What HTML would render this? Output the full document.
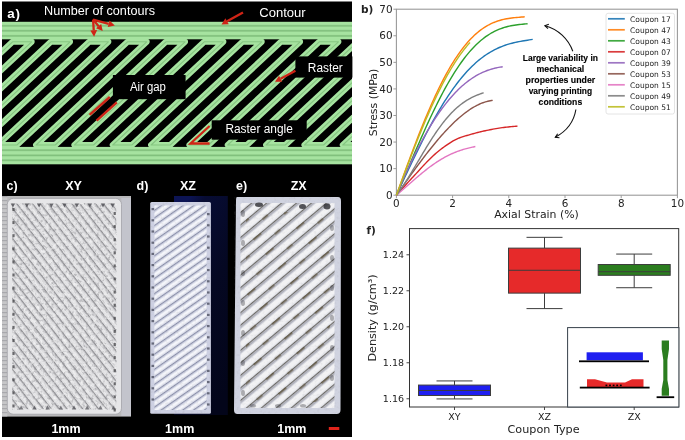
<!DOCTYPE html>
<html><head><meta charset="utf-8"><title>Figure</title>
<style>html,body{margin:0;padding:0;background:#fff;width:685px;height:440px;overflow:hidden}svg{display:block}</style>
</head><body>
<svg width="685" height="440" viewBox="0 0 685 440">
<rect width="685" height="440" fill="#fff"/>
<rect x="2" y="1.5" width="350" height="435.5" fill="#000"/>
<defs><clipPath id="cpa"><rect x="2" y="38.6" width="350" height="109"/></clipPath>
<linearGradient id="cont" x1="0" y1="0" x2="0" y2="1"></linearGradient></defs>
<rect x="2" y="21.8" width="350" height="17.50" fill="#a6e3a0"/>
<rect x="2" y="24.80" width="350" height="2.0" fill="#8fcc8a"/>
<rect x="2" y="25.30" width="350" height="1.0" fill="#78b873" opacity="0.6"/>
<rect x="2" y="29.75" width="350" height="2.0" fill="#8fcc8a"/>
<rect x="2" y="30.25" width="350" height="1.0" fill="#78b873" opacity="0.6"/>
<rect x="2" y="34.90" width="350" height="2.0" fill="#8fcc8a"/>
<rect x="2" y="35.40" width="350" height="1.0" fill="#78b873" opacity="0.6"/>
<rect x="2" y="146.9" width="350" height="17.40" fill="#a6e3a0"/>
<rect x="2" y="149.20" width="350" height="2.0" fill="#8fcc8a"/>
<rect x="2" y="149.70" width="350" height="1.0" fill="#78b873" opacity="0.6"/>
<rect x="2" y="154.40" width="350" height="2.0" fill="#8fcc8a"/>
<rect x="2" y="154.90" width="350" height="1.0" fill="#78b873" opacity="0.6"/>
<rect x="2" y="159.30" width="350" height="2.0" fill="#8fcc8a"/>
<rect x="2" y="159.80" width="350" height="1.0" fill="#78b873" opacity="0.6"/>
<g clip-path="url(#cpa)"><path d="M-213.15,145.00 L-102.48,41.80 L-83.31,41.80 L-193.98,145.00 L-174.81,145.00 L-64.14,41.80 L-44.97,41.80 L-155.64,145.00 L-136.47,145.00 L-25.80,41.80 L-6.63,41.80 L-117.30,145.00 L-98.13,145.00 L12.54,41.80 L31.71,41.80 L-78.96,145.00 L-59.79,145.00 L50.88,41.80 L70.05,41.80 L-40.62,145.00 L-21.45,145.00 L89.22,41.80 L108.39,41.80 L-2.28,145.00 L16.89,145.00 L127.56,41.80 L146.73,41.80 L36.06,145.00 L55.23,145.00 L165.90,41.80 L185.07,41.80 L74.40,145.00 L93.57,145.00 L204.24,41.80 L223.41,41.80 L112.74,145.00 L131.91,145.00 L242.58,41.80 L261.75,41.80 L151.08,145.00 L170.25,145.00 L280.92,41.80 L300.09,41.80 L189.42,145.00 L208.59,145.00 L319.26,41.80 L338.43,41.80 L227.76,145.00 L246.93,145.00 L357.60,41.80 L376.77,41.80 L266.10,145.00 L285.27,145.00 L395.94,41.80 L415.11,41.80 L304.44,145.00 L323.61,145.00 L434.28,41.80 L453.45,41.80 L342.78,145.00 L361.95,145.00 L472.62,41.80 L491.79,41.80 L381.12,145.00 L400.29,145.00 L510.96,41.80 L530.13,41.80 L419.46,145.00 L438.63,145.00" fill="none" stroke="#a6e3a0" stroke-width="6.0" stroke-linejoin="round"/><path d="M-213.15,145.00 L-102.48,41.80 L-83.31,41.80 L-193.98,145.00 L-174.81,145.00 L-64.14,41.80 L-44.97,41.80 L-155.64,145.00 L-136.47,145.00 L-25.80,41.80 L-6.63,41.80 L-117.30,145.00 L-98.13,145.00 L12.54,41.80 L31.71,41.80 L-78.96,145.00 L-59.79,145.00 L50.88,41.80 L70.05,41.80 L-40.62,145.00 L-21.45,145.00 L89.22,41.80 L108.39,41.80 L-2.28,145.00 L16.89,145.00 L127.56,41.80 L146.73,41.80 L36.06,145.00 L55.23,145.00 L165.90,41.80 L185.07,41.80 L74.40,145.00 L93.57,145.00 L204.24,41.80 L223.41,41.80 L112.74,145.00 L131.91,145.00 L242.58,41.80 L261.75,41.80 L151.08,145.00 L170.25,145.00 L280.92,41.80 L300.09,41.80 L189.42,145.00 L208.59,145.00 L319.26,41.80 L338.43,41.80 L227.76,145.00 L246.93,145.00 L357.60,41.80 L376.77,41.80 L266.10,145.00 L285.27,145.00 L395.94,41.80 L415.11,41.80 L304.44,145.00 L323.61,145.00 L434.28,41.80 L453.45,41.80 L342.78,145.00 L361.95,145.00 L472.62,41.80 L491.79,41.80 L381.12,145.00 L400.29,145.00 L510.96,41.80 L530.13,41.80 L419.46,145.00 L438.63,145.00" fill="none" stroke="#78b873" stroke-width="1.1" stroke-linejoin="round" opacity="0.7"/></g>
<text x="7.3" y="17.6" font-family="Liberation Sans, Arial, sans-serif" font-size="13.4" font-weight="bold" fill="#fff" letter-spacing="0.7">a)</text>
<text x="44" y="14.8" font-family="Liberation Sans, Arial, sans-serif" font-size="12.2" fill="#fff" textLength="111" lengthAdjust="spacingAndGlyphs">Number of contours</text>
<text x="259.3" y="17.2" font-family="Liberation Sans, Arial, sans-serif" font-size="12.2" fill="#fff" textLength="46.4" lengthAdjust="spacingAndGlyphs">Contour</text>
<rect x="295.4" y="56.4" width="57" height="21.2" fill="#000"/>
<text x="307.8" y="71.7" font-family="Liberation Sans, Arial, sans-serif" font-size="12" fill="#fff" textLength="35" lengthAdjust="spacingAndGlyphs">Raster</text>
<rect x="112.9" y="75" width="72.7" height="24.2" fill="#000"/>
<text x="129.9" y="91.4" font-family="Liberation Sans, Arial, sans-serif" font-size="12" fill="#fff" textLength="36" lengthAdjust="spacingAndGlyphs">Air gap</text>
<rect x="211.7" y="120.3" width="95" height="19.4" fill="#000"/>
<text x="225.4" y="133.3" font-family="Liberation Sans, Arial, sans-serif" font-size="12" fill="#fff" textLength="67.4" lengthAdjust="spacingAndGlyphs">Raster angle</text>
<line x1="89.6" y1="114.9" x2="109.8" y2="97" stroke="#cf2416" stroke-width="2.5"/>
<line x1="96.6" y1="120.7" x2="116.8" y2="102.3" stroke="#cf2416" stroke-width="2.5"/>
<polyline points="209.6,126 190.5,143.5 209.6,143.5" fill="none" stroke="#cf2416" stroke-width="2.3"/>
<line x1="93.1" y1="19.6" x2="93.73" y2="30.31" stroke="#cf2416" stroke-width="2.3"/>
<polygon points="94.1,36.7 90.33,30.51 97.12,30.11" fill="#cf2416"/>
<line x1="93.1" y1="19.6" x2="98.60" y2="26.19" stroke="#cf2416" stroke-width="2.3"/>
<polygon points="102.7,31.1 95.99,28.37 101.21,24.01" fill="#cf2416"/>
<line x1="93.1" y1="19.6" x2="108.62" y2="23.82" stroke="#cf2416" stroke-width="2.3"/>
<polygon points="114.8,25.5 107.73,27.10 109.52,20.54" fill="#cf2416"/>
<line x1="243" y1="12.4" x2="227.09" y2="21.28" stroke="#cf2416" stroke-width="2.3"/>
<polygon points="221.5,24.4 225.43,18.31 228.75,24.25" fill="#cf2416"/>
<line x1="295.4" y1="70.7" x2="280.62" y2="78.74" stroke="#cf2416" stroke-width="2.3"/>
<polygon points="275,81.8 279.00,75.75 282.25,81.73" fill="#cf2416"/>
<defs><pattern id="pc" width="6.2" height="6.2" patternUnits="userSpaceOnUse" patternTransform="rotate(52)"><rect width="6.2" height="6.2" fill="#dedee0"/><rect y="0" width="6.2" height="1.0" fill="#8e8e92"/><rect y="1.0" width="6.2" height="0.7" fill="#b8b8bc"/><rect y="3.4" width="6.2" height="1.2" fill="#e8e8ea"/></pattern><pattern id="pcl" width="4" height="4" patternUnits="userSpaceOnUse"><rect width="4" height="4" fill="#c6c6c8"/><rect width="4" height="1.2" fill="#a8a8ac"/></pattern><pattern id="pd" width="6.2" height="6.2" patternUnits="userSpaceOnUse" patternTransform="rotate(-35)"><rect width="6.2" height="6.2" fill="#f5f6fb"/><rect width="6.2" height="0.9" fill="#8c90aa"/><rect y="0.9" width="6.2" height="1.2" fill="#c3c7da"/><rect y="5.0" width="6.2" height="1.2" fill="#d9dce8"/></pattern><pattern id="pe" width="9.6" height="9.6" patternUnits="userSpaceOnUse" patternTransform="rotate(-40)"><rect width="9.6" height="9.6" fill="#f2f2f4"/><rect width="9.6" height="1.3" fill="#6c6a66"/><rect y="1.3" width="9.6" height="1.5" fill="#a9abb7"/><rect y="2.8" width="9.6" height="0.9" fill="#d2d4dc"/><rect y="8.4" width="9.6" height="1.2" fill="#dddee4"/></pattern><pattern id="pe2" width="40" height="19.2" patternUnits="userSpaceOnUse" patternTransform="rotate(-40)"><rect x="0" y="-0.3" width="10" height="2.4" fill="#5a4e34" opacity="0.6"/><rect x="20" y="9.3" width="7" height="2.4" fill="#5a4e34" opacity="0.5"/></pattern><filter id="nz" x="0" y="0" width="1" height="1"><feTurbulence type="fractalNoise" baseFrequency="0.35" numOctaves="2" seed="7"/><feColorMatrix type="matrix" values="0 0 0 0 0.3  0 0 0 0 0.3  0 0 0 0 0.32  2.6 0 0 0 -1.35"/><feGaussianBlur stdDeviation="0.35"/></filter><filter id="nzl" x="0" y="0" width="1" height="1"><feTurbulence type="fractalNoise" baseFrequency="0.3" numOctaves="2" seed="3"/><feColorMatrix type="matrix" values="0 0 0 0 1  0 0 0 0 1  0 0 0 0 1  2.6 0 0 0 -1.3"/><feGaussianBlur stdDeviation="0.35"/></filter><linearGradient id="navy" x1="0.3" y1="0" x2="0.7" y2="1"><stop offset="0" stop-color="#0c1454"/><stop offset="0.1" stop-color="#070c34"/><stop offset="0.5" stop-color="#050822"/><stop offset="1" stop-color="#03051a"/></linearGradient></defs>
<rect x="2" y="196" width="129" height="220.6" fill="#b8b8ba"/>
<rect x="2" y="196" width="5.3" height="220.6" fill="url(#pcl)"/>
<rect x="121.3" y="198" width="9.7" height="218" fill="#c3c4cc"/>
<rect x="7.3" y="198.4" width="114.2" height="215.8" rx="6" fill="#e6e6e8" stroke="#9c9ca4" stroke-width="0.7"/>
<rect x="12.2" y="203.6" width="104" height="205.6" fill="url(#pc)"/>
<rect x="12.2" y="203.6" width="104" height="205.6" filter="url(#nz)" opacity="0.75"/>
<rect x="12.2" y="203.6" width="104" height="205.6" filter="url(#nzl)" opacity="0.6"/>
<polygon points="10.7,203.4 15.1,203.4 12.9,207.6" fill="#505056" opacity="0.85"/>
<polygon points="24.7,203.4 29.1,203.4 26.9,207.6" fill="#505056" opacity="0.85"/>
<polygon points="36.9,203.4 41.3,203.4 39.1,207.6" fill="#505056" opacity="0.85"/>
<polygon points="49.2,203.4 53.6,203.4 51.4,207.6" fill="#505056" opacity="0.85"/>
<polygon points="62.3,203.4 66.7,203.4 64.5,207.6" fill="#505056" opacity="0.85"/>
<polygon points="74.6,203.4 79.0,203.4 76.8,207.6" fill="#505056" opacity="0.85"/>
<polygon points="87.7,203.4 92.1,203.4 89.9,207.6" fill="#505056" opacity="0.85"/>
<polygon points="100.8,203.4 105.2,203.4 103.0,207.6" fill="#505056" opacity="0.85"/>
<polygon points="110.5,203.4 114.9,203.4 112.7,207.6" fill="#505056" opacity="0.85"/>
<rect x="12.4" y="208.0" width="2.2" height="3" fill="#4a4a4e" opacity="0.8"/>
<rect x="113.6" y="212.0" width="2.2" height="3" fill="#4a4a4e" opacity="0.8"/>
<rect x="12.4" y="221.1" width="2.2" height="3" fill="#4a4a4e" opacity="0.8"/>
<rect x="113.6" y="225.1" width="2.2" height="3" fill="#4a4a4e" opacity="0.8"/>
<rect x="12.4" y="234.2" width="2.2" height="3" fill="#4a4a4e" opacity="0.8"/>
<rect x="113.6" y="238.2" width="2.2" height="3" fill="#4a4a4e" opacity="0.8"/>
<rect x="12.4" y="247.3" width="2.2" height="3" fill="#4a4a4e" opacity="0.8"/>
<rect x="113.6" y="251.3" width="2.2" height="3" fill="#4a4a4e" opacity="0.8"/>
<rect x="12.4" y="260.4" width="2.2" height="3" fill="#4a4a4e" opacity="0.8"/>
<rect x="113.6" y="264.4" width="2.2" height="3" fill="#4a4a4e" opacity="0.8"/>
<rect x="12.4" y="273.5" width="2.2" height="3" fill="#4a4a4e" opacity="0.8"/>
<rect x="113.6" y="277.5" width="2.2" height="3" fill="#4a4a4e" opacity="0.8"/>
<rect x="12.4" y="286.6" width="2.2" height="3" fill="#4a4a4e" opacity="0.8"/>
<rect x="113.6" y="290.6" width="2.2" height="3" fill="#4a4a4e" opacity="0.8"/>
<rect x="12.4" y="299.7" width="2.2" height="3" fill="#4a4a4e" opacity="0.8"/>
<rect x="113.6" y="303.7" width="2.2" height="3" fill="#4a4a4e" opacity="0.8"/>
<rect x="12.4" y="312.8" width="2.2" height="3" fill="#4a4a4e" opacity="0.8"/>
<rect x="113.6" y="316.8" width="2.2" height="3" fill="#4a4a4e" opacity="0.8"/>
<rect x="12.4" y="325.9" width="2.2" height="3" fill="#4a4a4e" opacity="0.8"/>
<rect x="113.6" y="329.9" width="2.2" height="3" fill="#4a4a4e" opacity="0.8"/>
<rect x="12.4" y="339.0" width="2.2" height="3" fill="#4a4a4e" opacity="0.8"/>
<rect x="113.6" y="343.0" width="2.2" height="3" fill="#4a4a4e" opacity="0.8"/>
<rect x="12.4" y="352.1" width="2.2" height="3" fill="#4a4a4e" opacity="0.8"/>
<rect x="113.6" y="356.1" width="2.2" height="3" fill="#4a4a4e" opacity="0.8"/>
<rect x="12.4" y="365.2" width="2.2" height="3" fill="#4a4a4e" opacity="0.8"/>
<rect x="113.6" y="369.2" width="2.2" height="3" fill="#4a4a4e" opacity="0.8"/>
<rect x="12.4" y="378.3" width="2.2" height="3" fill="#4a4a4e" opacity="0.8"/>
<rect x="113.6" y="382.3" width="2.2" height="3" fill="#4a4a4e" opacity="0.8"/>
<rect x="12.4" y="391.4" width="2.2" height="3" fill="#4a4a4e" opacity="0.8"/>
<rect x="113.6" y="395.4" width="2.2" height="3" fill="#4a4a4e" opacity="0.8"/>
<rect x="12.4" y="404.5" width="2.2" height="3" fill="#4a4a4e" opacity="0.8"/>
<rect x="113.6" y="408.5" width="2.2" height="3" fill="#4a4a4e" opacity="0.8"/>
<polygon points="19.0,409.4 23.4,409.4 21.2,405.6" fill="#505056" opacity="0.7"/>
<polygon points="32.2,409.4 36.6,409.4 34.4,405.6" fill="#505056" opacity="0.7"/>
<polygon points="45.4,409.4 49.8,409.4 47.6,405.6" fill="#505056" opacity="0.7"/>
<polygon points="58.6,409.4 63.0,409.4 60.8,405.6" fill="#505056" opacity="0.7"/>
<polygon points="71.8,409.4 76.2,409.4 74.0,405.6" fill="#505056" opacity="0.7"/>
<polygon points="85.0,409.4 89.4,409.4 87.2,405.6" fill="#505056" opacity="0.7"/>
<polygon points="98.2,409.4 102.6,409.4 100.4,405.6" fill="#505056" opacity="0.7"/>
<polygon points="111.4,409.4 115.8,409.4 113.6,405.6" fill="#505056" opacity="0.7"/>
<rect x="174" y="196" width="53.8" height="219" fill="url(#navy)"/>
<rect x="150.2" y="202" width="60.7" height="211.8" rx="1.5" fill="#cdd0e2"/>
<rect x="154.4" y="205.5" width="52.2" height="204.5" fill="url(#pd)"/>
<rect x="150.2" y="202" width="60.7" height="211.8" filter="url(#nz)" opacity="0.2"/>
<rect x="151.5" y="208.0" width="2.6" height="2.2" fill="#3c3e50" opacity="0.7"/>
<rect x="207" y="213.0" width="2.6" height="2.2" fill="#3c3e50" opacity="0.7"/>
<rect x="151.5" y="219.2" width="2.6" height="2.2" fill="#3c3e50" opacity="0.7"/>
<rect x="207" y="224.2" width="2.6" height="2.2" fill="#3c3e50" opacity="0.7"/>
<rect x="151.5" y="230.4" width="2.6" height="2.2" fill="#3c3e50" opacity="0.7"/>
<rect x="207" y="235.4" width="2.6" height="2.2" fill="#3c3e50" opacity="0.7"/>
<rect x="151.5" y="241.6" width="2.6" height="2.2" fill="#3c3e50" opacity="0.7"/>
<rect x="207" y="246.6" width="2.6" height="2.2" fill="#3c3e50" opacity="0.7"/>
<rect x="151.5" y="252.8" width="2.6" height="2.2" fill="#3c3e50" opacity="0.7"/>
<rect x="207" y="257.8" width="2.6" height="2.2" fill="#3c3e50" opacity="0.7"/>
<rect x="151.5" y="264.0" width="2.6" height="2.2" fill="#3c3e50" opacity="0.7"/>
<rect x="207" y="269.0" width="2.6" height="2.2" fill="#3c3e50" opacity="0.7"/>
<rect x="151.5" y="275.2" width="2.6" height="2.2" fill="#3c3e50" opacity="0.7"/>
<rect x="207" y="280.2" width="2.6" height="2.2" fill="#3c3e50" opacity="0.7"/>
<rect x="151.5" y="286.4" width="2.6" height="2.2" fill="#3c3e50" opacity="0.7"/>
<rect x="207" y="291.4" width="2.6" height="2.2" fill="#3c3e50" opacity="0.7"/>
<rect x="151.5" y="297.6" width="2.6" height="2.2" fill="#3c3e50" opacity="0.7"/>
<rect x="207" y="302.6" width="2.6" height="2.2" fill="#3c3e50" opacity="0.7"/>
<rect x="151.5" y="308.8" width="2.6" height="2.2" fill="#3c3e50" opacity="0.7"/>
<rect x="207" y="313.8" width="2.6" height="2.2" fill="#3c3e50" opacity="0.7"/>
<rect x="151.5" y="320.0" width="2.6" height="2.2" fill="#3c3e50" opacity="0.7"/>
<rect x="207" y="325.0" width="2.6" height="2.2" fill="#3c3e50" opacity="0.7"/>
<rect x="151.5" y="331.2" width="2.6" height="2.2" fill="#3c3e50" opacity="0.7"/>
<rect x="207" y="336.2" width="2.6" height="2.2" fill="#3c3e50" opacity="0.7"/>
<rect x="151.5" y="342.4" width="2.6" height="2.2" fill="#3c3e50" opacity="0.7"/>
<rect x="207" y="347.4" width="2.6" height="2.2" fill="#3c3e50" opacity="0.7"/>
<rect x="151.5" y="353.6" width="2.6" height="2.2" fill="#3c3e50" opacity="0.7"/>
<rect x="207" y="358.6" width="2.6" height="2.2" fill="#3c3e50" opacity="0.7"/>
<rect x="151.5" y="364.8" width="2.6" height="2.2" fill="#3c3e50" opacity="0.7"/>
<rect x="207" y="369.8" width="2.6" height="2.2" fill="#3c3e50" opacity="0.7"/>
<rect x="151.5" y="376.0" width="2.6" height="2.2" fill="#3c3e50" opacity="0.7"/>
<rect x="207" y="381.0" width="2.6" height="2.2" fill="#3c3e50" opacity="0.7"/>
<rect x="151.5" y="387.2" width="2.6" height="2.2" fill="#3c3e50" opacity="0.7"/>
<rect x="207" y="392.2" width="2.6" height="2.2" fill="#3c3e50" opacity="0.7"/>
<rect x="151.5" y="398.4" width="2.6" height="2.2" fill="#3c3e50" opacity="0.7"/>
<rect x="207" y="403.4" width="2.6" height="2.2" fill="#3c3e50" opacity="0.7"/>
<path d="M237,197 L338,197 Q341,197 341,201 L340.5,410 Q340.5,414 336.5,414 L237.5,414 Q234,414 234,410 L236,201 Q236,197 237,197 Z" fill="#d0d3e0"/>
<rect x="240.5" y="203" width="94" height="205" fill="url(#pe)"/>
<rect x="246" y="212" width="84" height="190" fill="url(#pe2)"/>
<rect x="234" y="197" width="107" height="217" filter="url(#nz)" opacity="0.15"/>
<ellipse cx="259.0" cy="204.75" rx="4.0" ry="2.25" fill="#2a2a30" opacity="0.8"/>
<ellipse cx="302.5" cy="206.5" rx="3.5" ry="2.5" fill="#2a2a30" opacity="0.8"/>
<ellipse cx="327.0" cy="206.5" rx="3.5" ry="3.0" fill="#2a2a30" opacity="0.8"/>
<ellipse cx="243.0" cy="213.5" rx="2.0" ry="3.5" fill="#2a2a30" opacity="0.35"/>
<ellipse cx="243.0" cy="243.0" rx="2.0" ry="3.0" fill="#2a2a30" opacity="0.35"/>
<ellipse cx="243.0" cy="273.0" rx="2.0" ry="3.0" fill="#2a2a30" opacity="0.35"/>
<ellipse cx="243.0" cy="303.0" rx="2.0" ry="3.0" fill="#2a2a30" opacity="0.35"/>
<ellipse cx="243.0" cy="333.0" rx="2.0" ry="3.0" fill="#2a2a30" opacity="0.35"/>
<ellipse cx="243.0" cy="363.0" rx="2.0" ry="3.0" fill="#2a2a30" opacity="0.35"/>
<ellipse cx="243.0" cy="393.0" rx="2.0" ry="3.0" fill="#2a2a30" opacity="0.35"/>
<ellipse cx="332.0" cy="228.0" rx="2.0" ry="3.0" fill="#2a2a30" opacity="0.35"/>
<ellipse cx="332.0" cy="258.0" rx="2.0" ry="3.0" fill="#2a2a30" opacity="0.35"/>
<ellipse cx="332.0" cy="288.0" rx="2.0" ry="3.0" fill="#2a2a30" opacity="0.35"/>
<ellipse cx="332.0" cy="318.0" rx="2.0" ry="3.0" fill="#2a2a30" opacity="0.35"/>
<ellipse cx="332.0" cy="348.0" rx="2.0" ry="3.0" fill="#2a2a30" opacity="0.35"/>
<ellipse cx="332.0" cy="378.0" rx="2.0" ry="3.0" fill="#2a2a30" opacity="0.35"/>
<ellipse cx="253.0" cy="405.75" rx="3.0" ry="1.75" fill="#2a2a30" opacity="0.35"/>
<ellipse cx="278.0" cy="405.75" rx="3.0" ry="1.75" fill="#2a2a30" opacity="0.35"/>
<ellipse cx="303.0" cy="405.75" rx="3.0" ry="1.75" fill="#2a2a30" opacity="0.35"/>
<text x="6.6" y="189.5" font-family="Liberation Sans, Arial, sans-serif" font-weight="bold" fill="#fff" font-size="12.5">c)</text>
<text x="65.2" y="189.5" font-family="Liberation Sans, Arial, sans-serif" font-weight="bold" fill="#fff" font-size="12.5" textLength="16.8" lengthAdjust="spacingAndGlyphs">XY</text>
<text x="136.6" y="189.5" font-family="Liberation Sans, Arial, sans-serif" font-weight="bold" fill="#fff" font-size="12.5">d)</text>
<text x="180" y="189.5" font-family="Liberation Sans, Arial, sans-serif" font-weight="bold" fill="#fff" font-size="12.5" textLength="16" lengthAdjust="spacingAndGlyphs">XZ</text>
<text x="236" y="189.5" font-family="Liberation Sans, Arial, sans-serif" font-weight="bold" fill="#fff" font-size="12.5">e)</text>
<text x="290.7" y="189.5" font-family="Liberation Sans, Arial, sans-serif" font-weight="bold" fill="#fff" font-size="12.5" textLength="16" lengthAdjust="spacingAndGlyphs">ZX</text>
<text x="66" y="432.5" font-family="Liberation Sans, Arial, sans-serif" font-weight="bold" fill="#fff" font-size="12.5" text-anchor="middle">1mm</text>
<text x="179.7" y="432.5" font-family="Liberation Sans, Arial, sans-serif" font-weight="bold" fill="#fff" font-size="12.5" text-anchor="middle">1mm</text>
<text x="291.9" y="432.5" font-family="Liberation Sans, Arial, sans-serif" font-weight="bold" fill="#fff" font-size="12.5" text-anchor="middle">1mm</text>
<rect x="328.8" y="427" width="10.5" height="3" fill="#e0241b"/>
<rect x="396.40" y="9.21" width="281.00" height="185.99" fill="none" stroke="#9a9a9a" stroke-width="1.1"/>
<line x1="393.40" y1="195.20" x2="396.40" y2="195.20" stroke="#9a9a9a" stroke-width="1"/>
<text x="392.60" y="198.90" font-family="DejaVu Sans, sans-serif" font-size="10.4" fill="#222" text-anchor="end">0</text>
<line x1="393.40" y1="168.63" x2="396.40" y2="168.63" stroke="#9a9a9a" stroke-width="1"/>
<text x="392.60" y="172.33" font-family="DejaVu Sans, sans-serif" font-size="10.4" fill="#222" text-anchor="end">10</text>
<line x1="393.40" y1="142.06" x2="396.40" y2="142.06" stroke="#9a9a9a" stroke-width="1"/>
<text x="392.60" y="145.76" font-family="DejaVu Sans, sans-serif" font-size="10.4" fill="#222" text-anchor="end">20</text>
<line x1="393.40" y1="115.49" x2="396.40" y2="115.49" stroke="#9a9a9a" stroke-width="1"/>
<text x="392.60" y="119.19" font-family="DejaVu Sans, sans-serif" font-size="10.4" fill="#222" text-anchor="end">30</text>
<line x1="393.40" y1="88.92" x2="396.40" y2="88.92" stroke="#9a9a9a" stroke-width="1"/>
<text x="392.60" y="92.62" font-family="DejaVu Sans, sans-serif" font-size="10.4" fill="#222" text-anchor="end">40</text>
<line x1="393.40" y1="62.35" x2="396.40" y2="62.35" stroke="#9a9a9a" stroke-width="1"/>
<text x="392.60" y="66.05" font-family="DejaVu Sans, sans-serif" font-size="10.4" fill="#222" text-anchor="end">50</text>
<line x1="393.40" y1="35.78" x2="396.40" y2="35.78" stroke="#9a9a9a" stroke-width="1"/>
<text x="392.60" y="39.48" font-family="DejaVu Sans, sans-serif" font-size="10.4" fill="#222" text-anchor="end">60</text>
<line x1="393.40" y1="9.21" x2="396.40" y2="9.21" stroke="#9a9a9a" stroke-width="1"/>
<text x="392.60" y="12.91" font-family="DejaVu Sans, sans-serif" font-size="10.4" fill="#222" text-anchor="end">70</text>
<line x1="396.40" y1="195.20" x2="396.40" y2="198.20" stroke="#9a9a9a" stroke-width="1"/>
<text x="396.40" y="206.80" font-family="DejaVu Sans, sans-serif" font-size="10.4" fill="#222" text-anchor="middle">0</text>
<line x1="452.60" y1="195.20" x2="452.60" y2="198.20" stroke="#9a9a9a" stroke-width="1"/>
<text x="452.60" y="206.80" font-family="DejaVu Sans, sans-serif" font-size="10.4" fill="#222" text-anchor="middle">2</text>
<line x1="508.80" y1="195.20" x2="508.80" y2="198.20" stroke="#9a9a9a" stroke-width="1"/>
<text x="508.80" y="206.80" font-family="DejaVu Sans, sans-serif" font-size="10.4" fill="#222" text-anchor="middle">4</text>
<line x1="565.00" y1="195.20" x2="565.00" y2="198.20" stroke="#9a9a9a" stroke-width="1"/>
<text x="565.00" y="206.80" font-family="DejaVu Sans, sans-serif" font-size="10.4" fill="#222" text-anchor="middle">6</text>
<line x1="621.20" y1="195.20" x2="621.20" y2="198.20" stroke="#9a9a9a" stroke-width="1"/>
<text x="621.20" y="206.80" font-family="DejaVu Sans, sans-serif" font-size="10.4" fill="#222" text-anchor="middle">8</text>
<line x1="677.40" y1="195.20" x2="677.40" y2="198.20" stroke="#9a9a9a" stroke-width="1"/>
<text x="677.40" y="206.80" font-family="DejaVu Sans, sans-serif" font-size="10.4" fill="#222" text-anchor="middle">10</text>
<text x="536.5" y="218.3" font-family="DejaVu Sans, sans-serif" font-size="10.9" fill="#222" text-anchor="middle">Axial Strain (%)</text>
<text transform="translate(377.2,102.5) rotate(-90)" font-family="DejaVu Sans, sans-serif" font-size="10.9" fill="#222" text-anchor="middle">Stress (MPa)</text>
<text x="361" y="13.2" font-family="DejaVu Sans, sans-serif" font-weight="bold" font-size="10.5" fill="#222">b)</text>
<polyline points="396.40,195.20 398.13,191.50 399.85,187.81 401.58,184.12 403.30,180.43 405.03,176.76 406.75,173.10 408.48,169.46 410.20,165.83 411.93,162.23 413.65,158.65 415.38,155.10 417.11,151.59 418.83,148.10 420.56,144.65 422.28,141.24 424.01,137.87 425.73,134.54 427.46,131.25 429.18,128.01 430.91,124.82 432.64,121.68 434.36,118.59 436.09,115.56 437.81,112.58 439.54,109.65 441.26,106.78 442.99,103.98 444.71,101.23 446.44,98.54 448.16,95.92 449.89,93.36 451.62,90.86 453.34,88.42 455.07,86.06 456.79,83.75 458.52,81.52 460.24,79.35 461.97,77.25 463.69,75.21 465.42,73.24 467.14,71.34 468.87,69.50 470.60,67.73 472.32,66.03 474.05,64.40 475.77,62.83 477.50,61.32 479.22,59.88 480.95,58.50 482.67,57.19 484.40,55.93 486.13,54.74 487.85,53.61 489.58,52.54 491.30,51.52 493.03,50.56 494.75,49.65 496.48,48.80 498.20,48.00 499.93,47.25 501.65,46.54 503.38,45.88 505.11,45.27 506.83,44.70 508.56,44.16 510.28,43.67 512.01,43.21 513.73,42.78 515.46,42.38 517.18,42.01 518.91,41.66 520.63,41.33 522.36,41.03 524.09,40.74 525.81,40.46 527.54,40.19 529.26,39.93 530.99,39.67 532.71,39.41" fill="none" stroke="#1f77b4" stroke-width="1.4" stroke-linejoin="round" stroke-linecap="butt"/>
<polyline points="396.40,195.20 398.02,190.68 399.65,186.16 401.27,181.65 402.90,177.16 404.52,172.69 406.14,168.24 407.77,163.81 409.39,159.42 411.02,155.05 412.64,150.73 414.27,146.45 415.89,142.20 417.51,138.01 419.14,133.86 420.76,129.77 422.39,125.72 424.01,121.74 425.63,117.82 427.26,113.96 428.88,110.16 430.51,106.42 432.13,102.76 433.75,99.17 435.38,95.65 437.00,92.20 438.63,88.82 440.25,85.53 441.88,82.31 443.50,79.17 445.12,76.11 446.75,73.13 448.37,70.24 450.00,67.42 451.62,64.69 453.24,62.05 454.87,59.49 456.49,57.01 458.12,54.62 459.74,52.31 461.36,50.09 462.99,47.96 464.61,45.90 466.24,43.94 467.86,42.05 469.48,40.25 471.11,38.53 472.73,36.90 474.36,35.34 475.98,33.87 477.61,32.47 479.23,31.15 480.85,29.90 482.48,28.73 484.10,27.64 485.73,26.61 487.35,25.65 488.97,24.76 490.60,23.94 492.22,23.18 493.85,22.48 495.47,21.83 497.09,21.25 498.72,20.71 500.34,20.23 501.97,19.79 503.59,19.40 505.22,19.05 506.84,18.74 508.46,18.46 510.09,18.22 511.71,18.00 513.34,17.81 514.96,17.63 516.58,17.48 518.21,17.33 519.83,17.20 521.46,17.07 523.08,16.94 524.70,16.81" fill="none" stroke="#ff7f0e" stroke-width="1.4" stroke-linejoin="round" stroke-linecap="butt"/>
<polyline points="396.40,195.20 398.06,191.43 399.72,187.62 401.38,183.80 403.04,179.95 404.70,176.09 406.36,172.22 408.03,168.34 409.69,164.46 411.35,160.59 413.01,156.72 414.67,152.87 416.33,149.03 417.99,145.21 419.65,141.42 421.31,137.65 422.97,133.91 424.63,130.21 426.29,126.54 427.95,122.91 429.61,119.33 431.28,115.79 432.94,112.30 434.60,108.87 436.26,105.48 437.92,102.15 439.58,98.88 441.24,95.68 442.90,92.53 444.56,89.45 446.22,86.43 447.88,83.49 449.54,80.61 451.20,77.80 452.87,75.07 454.53,72.41 456.19,69.82 457.85,67.31 459.51,64.88 461.17,62.52 462.83,60.24 464.49,58.03 466.15,55.91 467.81,53.86 469.47,51.89 471.13,50.00 472.79,48.19 474.46,46.46 476.12,44.80 477.78,43.22 479.44,41.71 481.10,40.28 482.76,38.93 484.42,37.65 486.08,36.44 487.74,35.30 489.40,34.23 491.06,33.23 492.72,32.29 494.38,31.42 496.04,30.61 497.71,29.87 499.37,29.18 501.03,28.55 502.69,27.97 504.35,27.44 506.01,26.96 507.67,26.53 509.33,26.14 510.99,25.79 512.65,25.48 514.31,25.20 515.97,24.95 517.63,24.73 519.30,24.53 520.96,24.35 522.62,24.18 524.28,24.03 525.94,23.89 527.60,23.75" fill="none" stroke="#2ca02c" stroke-width="1.4" stroke-linejoin="round" stroke-linecap="butt"/>
<polyline points="396.40,195.20 397.93,193.48 399.47,191.77 401.00,190.06 402.53,188.37 404.07,186.67 405.60,184.99 407.13,183.31 408.66,181.64 410.20,179.97 411.73,178.32 413.26,176.67 414.80,175.02 416.33,173.36 417.86,171.68 419.40,170.00 420.93,168.32 422.46,166.65 423.99,165.00 425.53,163.36 427.06,161.75 428.59,160.18 430.13,158.65 431.66,157.16 433.19,155.73 434.73,154.36 436.26,153.02 437.79,151.73 439.33,150.48 440.86,149.28 442.39,148.12 443.92,147.01 445.46,145.94 446.99,144.88 448.52,143.83 450.06,142.81 451.59,141.83 453.12,140.91 454.66,140.05 456.19,139.27 457.72,138.58 459.26,137.97 460.79,137.41 462.32,136.89 463.85,136.40 465.39,135.94 466.92,135.50 468.45,135.07 469.99,134.63 471.52,134.19 473.05,133.76 474.59,133.34 476.12,132.93 477.65,132.53 479.18,132.14 480.72,131.76 482.25,131.40 483.78,131.05 485.32,130.73 486.85,130.40 488.38,130.08 489.92,129.77 491.45,129.47 492.98,129.17 494.52,128.89 496.05,128.62 497.58,128.36 499.11,128.11 500.65,127.89 502.18,127.67 503.71,127.48 505.25,127.29 506.78,127.11 508.31,126.94 509.85,126.77 511.38,126.62 512.91,126.47 514.44,126.34 515.98,126.22 517.51,126.12" fill="none" stroke="#d62728" stroke-width="1.4" stroke-linejoin="round" stroke-linecap="butt"/>
<polyline points="396.40,195.20 397.75,191.99 399.09,188.81 400.44,185.67 401.78,182.56 403.13,179.50 404.47,176.47 405.82,173.48 407.16,170.53 408.51,167.62 409.86,164.75 411.20,161.92 412.55,159.12 413.89,156.37 415.24,153.66 416.58,151.00 417.93,148.37 419.28,145.78 420.62,143.24 421.97,140.74 423.31,138.28 424.66,135.87 426.00,133.50 427.35,131.17 428.69,128.88 430.04,126.64 431.39,124.44 432.73,122.28 434.08,120.17 435.42,118.10 436.77,116.08 438.11,114.09 439.46,112.16 440.80,110.26 442.15,108.41 443.50,106.61 444.84,104.84 446.19,103.13 447.53,101.45 448.88,99.82 450.22,98.23 451.57,96.68 452.92,95.18 454.26,93.72 455.61,92.30 456.95,90.93 458.30,89.59 459.64,88.30 460.99,87.05 462.33,85.84 463.68,84.68 465.03,83.55 466.37,82.46 467.72,81.42 469.06,80.41 470.41,79.45 471.75,78.52 473.10,77.63 474.44,76.78 475.79,75.97 477.14,75.19 478.48,74.45 479.83,73.75 481.17,73.08 482.52,72.45 483.86,71.85 485.21,71.29 486.56,70.76 487.90,70.26 489.25,69.80 490.59,69.37 491.94,68.97 493.28,68.60 494.63,68.26 495.97,67.94 497.32,67.66 498.67,67.40 500.01,67.18 501.36,66.97 502.70,66.80" fill="none" stroke="#9467bd" stroke-width="1.4" stroke-linejoin="round" stroke-linecap="butt"/>
<polyline points="396.40,195.20 397.62,193.47 398.84,191.75 400.06,190.03 401.28,188.30 402.49,186.58 403.71,184.87 404.93,183.15 406.15,181.44 407.37,179.73 408.59,178.03 409.81,176.33 411.03,174.64 412.25,172.95 413.47,171.27 414.68,169.60 415.90,167.94 417.12,166.28 418.34,164.63 419.56,162.99 420.78,161.36 422.00,159.74 423.22,158.13 424.44,156.53 425.66,154.94 426.87,153.37 428.09,151.80 429.31,150.25 430.53,148.72 431.75,147.19 432.97,145.69 434.19,144.19 435.41,142.72 436.63,141.25 437.85,139.81 439.06,138.38 440.28,136.97 441.50,135.58 442.72,134.21 443.94,132.85 445.16,131.52 446.38,130.20 447.60,128.91 448.82,127.64 450.03,126.39 451.25,125.16 452.47,123.95 453.69,122.77 454.91,121.61 456.13,120.48 457.35,119.37 458.57,118.28 459.79,117.22 461.01,116.19 462.22,115.19 463.44,114.21 464.66,113.26 465.88,112.34 467.10,111.45 468.32,110.59 469.54,109.75 470.76,108.95 471.98,108.18 473.20,107.44 474.41,106.74 475.63,106.06 476.85,105.42 478.07,104.82 479.29,104.25 480.51,103.71 481.73,103.21 482.95,102.74 484.17,102.31 485.38,101.92 486.60,101.57 487.82,101.25 489.04,100.97 490.26,100.73 491.48,100.53 492.70,100.38" fill="none" stroke="#8c564b" stroke-width="1.4" stroke-linejoin="round" stroke-linecap="butt"/>
<polyline points="396.40,195.20 397.40,194.37 398.40,193.53 399.40,192.68 400.40,191.82 401.40,190.96 402.40,190.09 403.40,189.22 404.40,188.34 405.40,187.47 406.40,186.59 407.39,185.70 408.39,184.82 409.39,183.94 410.39,183.06 411.39,182.18 412.39,181.30 413.39,180.43 414.39,179.56 415.39,178.69 416.39,177.83 417.39,176.97 418.39,176.12 419.39,175.28 420.39,174.44 421.39,173.61 422.39,172.79 423.39,171.98 424.39,171.17 425.39,170.38 426.39,169.59 427.38,168.82 428.38,168.06 429.38,167.30 430.38,166.56 431.38,165.83 432.38,165.11 433.38,164.40 434.38,163.71 435.38,163.03 436.38,162.36 437.38,161.70 438.38,161.06 439.38,160.43 440.38,159.81 441.38,159.21 442.38,158.62 443.38,158.04 444.38,157.48 445.38,156.94 446.38,156.40 447.37,155.88 448.37,155.38 449.37,154.89 450.37,154.41 451.37,153.95 452.37,153.50 453.37,153.07 454.37,152.64 455.37,152.24 456.37,151.84 457.37,151.46 458.37,151.09 459.37,150.74 460.37,150.39 461.37,150.06 462.37,149.74 463.37,149.44 464.37,149.14 465.37,148.86 466.37,148.59 467.36,148.33 468.36,148.07 469.36,147.83 470.36,147.60 471.36,147.38 472.36,147.16 473.36,146.95 474.36,146.75 475.36,146.56" fill="none" stroke="#e377c2" stroke-width="1.4" stroke-linejoin="round" stroke-linecap="butt"/>
<polyline points="396.40,195.20 397.50,193.78 398.61,192.30 399.71,190.78 400.81,189.22 401.92,187.61 403.02,185.97 404.13,184.29 405.23,182.58 406.33,180.84 407.44,179.08 408.54,177.29 409.64,175.49 410.75,173.66 411.85,171.83 412.96,169.98 414.06,168.12 415.16,166.25 416.27,164.38 417.37,162.51 418.47,160.64 419.58,158.77 420.68,156.90 421.79,155.04 422.89,153.19 423.99,151.35 425.10,149.52 426.20,147.71 427.30,145.91 428.41,144.13 429.51,142.37 430.62,140.62 431.72,138.90 432.82,137.21 433.93,135.53 435.03,133.89 436.13,132.26 437.24,130.67 438.34,129.11 439.45,127.57 440.55,126.07 441.65,124.59 442.76,123.15 443.86,121.75 444.96,120.37 446.07,119.03 447.17,117.72 448.28,116.45 449.38,115.22 450.48,114.01 451.59,112.85 452.69,111.72 453.79,110.62 454.90,109.56 456.00,108.54 457.10,107.55 458.21,106.60 459.31,105.68 460.42,104.80 461.52,103.95 462.62,103.13 463.73,102.35 464.83,101.59 465.93,100.87 467.04,100.18 468.14,99.52 469.25,98.89 470.35,98.29 471.45,97.72 472.56,97.16 473.66,96.64 474.76,96.14 475.87,95.66 476.97,95.20 478.08,94.76 479.18,94.33 480.28,93.92 481.39,93.53 482.49,93.15 483.59,92.78" fill="none" stroke="#7f7f7f" stroke-width="1.4" stroke-linejoin="round" stroke-linecap="butt"/>
<polyline points="396.40,195.20 397.90,191.16 399.40,187.12 400.91,183.09 402.41,179.07 403.91,175.06 405.41,171.07 406.92,167.10 408.42,163.15 409.92,159.23 411.42,155.33 412.93,151.46 414.43,147.62 415.93,143.82 417.43,140.05 418.94,136.32 420.44,132.63 421.94,128.98 423.44,125.38 424.95,121.82 426.45,118.31 427.95,114.85 429.45,111.44 430.96,108.08 432.46,104.78 433.96,101.53 435.46,98.33 436.97,95.20 438.47,92.12 439.97,89.10 441.47,86.15 442.98,83.26 444.48,80.43 445.98,77.66 447.48,74.96 448.99,72.32 450.49,69.75 451.99,67.24 453.49,64.80 455.00,62.43 456.50,60.13 458.00,57.89 459.50,55.72 461.01,53.62 462.51,51.59 464.01,49.63 465.51,47.73 467.02,45.90 468.52,44.14 470.02,42.44" fill="none" stroke="#bcbd22" stroke-width="1.4" stroke-linejoin="round" stroke-linecap="butt"/>
<rect x="606" y="13.3" width="68.5" height="100.7" rx="2" fill="#fff" fill-opacity="0.8" stroke="#dddddd" stroke-width="0.8"/>
<line x1="608" y1="18.80" x2="624.8" y2="18.80" stroke="#1f77b4" stroke-width="1.7" stroke-opacity="0.9"/>
<text x="630.1" y="21.60" font-family="DejaVu Sans, sans-serif" font-size="7.6" fill="#222" textLength="40.6" lengthAdjust="spacingAndGlyphs">Coupon 17</text>
<line x1="608" y1="29.80" x2="624.8" y2="29.80" stroke="#ff7f0e" stroke-width="1.7" stroke-opacity="0.9"/>
<text x="630.1" y="32.60" font-family="DejaVu Sans, sans-serif" font-size="7.6" fill="#222" textLength="40.6" lengthAdjust="spacingAndGlyphs">Coupon 47</text>
<line x1="608" y1="40.80" x2="624.8" y2="40.80" stroke="#2ca02c" stroke-width="1.7" stroke-opacity="0.9"/>
<text x="630.1" y="43.60" font-family="DejaVu Sans, sans-serif" font-size="7.6" fill="#222" textLength="40.6" lengthAdjust="spacingAndGlyphs">Coupon 43</text>
<line x1="608" y1="51.80" x2="624.8" y2="51.80" stroke="#d62728" stroke-width="1.7" stroke-opacity="0.9"/>
<text x="630.1" y="54.60" font-family="DejaVu Sans, sans-serif" font-size="7.6" fill="#222" textLength="40.6" lengthAdjust="spacingAndGlyphs">Coupon 07</text>
<line x1="608" y1="62.80" x2="624.8" y2="62.80" stroke="#9467bd" stroke-width="1.7" stroke-opacity="0.9"/>
<text x="630.1" y="65.60" font-family="DejaVu Sans, sans-serif" font-size="7.6" fill="#222" textLength="40.6" lengthAdjust="spacingAndGlyphs">Coupon 39</text>
<line x1="608" y1="73.80" x2="624.8" y2="73.80" stroke="#8c564b" stroke-width="1.7" stroke-opacity="0.9"/>
<text x="630.1" y="76.60" font-family="DejaVu Sans, sans-serif" font-size="7.6" fill="#222" textLength="40.6" lengthAdjust="spacingAndGlyphs">Coupon 53</text>
<line x1="608" y1="84.80" x2="624.8" y2="84.80" stroke="#e377c2" stroke-width="1.7" stroke-opacity="0.9"/>
<text x="630.1" y="87.60" font-family="DejaVu Sans, sans-serif" font-size="7.6" fill="#222" textLength="40.6" lengthAdjust="spacingAndGlyphs">Coupon 15</text>
<line x1="608" y1="95.80" x2="624.8" y2="95.80" stroke="#7f7f7f" stroke-width="1.7" stroke-opacity="0.9"/>
<text x="630.1" y="98.60" font-family="DejaVu Sans, sans-serif" font-size="7.6" fill="#222" textLength="40.6" lengthAdjust="spacingAndGlyphs">Coupon 49</text>
<line x1="608" y1="106.80" x2="624.8" y2="106.80" stroke="#bcbd22" stroke-width="1.7" stroke-opacity="0.9"/>
<text x="630.1" y="109.60" font-family="DejaVu Sans, sans-serif" font-size="7.6" fill="#222" textLength="40.6" lengthAdjust="spacingAndGlyphs">Coupon 51</text>
<text x="560.4" y="60.9" font-family="Liberation Sans, Arial, sans-serif" font-weight="bold" font-size="8.6" fill="#000" stroke="#000" stroke-width="0.12" text-anchor="middle" textLength="75.3" lengthAdjust="spacingAndGlyphs">Large variability in</text>
<text x="560.4" y="72.1" font-family="Liberation Sans, Arial, sans-serif" font-weight="bold" font-size="8.6" fill="#000" stroke="#000" stroke-width="0.12" text-anchor="middle" textLength="47.8" lengthAdjust="spacingAndGlyphs">mechanical</text>
<text x="560.4" y="83.2" font-family="Liberation Sans, Arial, sans-serif" font-weight="bold" font-size="8.6" fill="#000" stroke="#000" stroke-width="0.12" text-anchor="middle" textLength="69.6" lengthAdjust="spacingAndGlyphs">properties under</text>
<text x="560.4" y="94.3" font-family="Liberation Sans, Arial, sans-serif" font-weight="bold" font-size="8.6" fill="#000" stroke="#000" stroke-width="0.12" text-anchor="middle" textLength="63.5" lengthAdjust="spacingAndGlyphs">varying printing</text>
<text x="560.4" y="105.3" font-family="Liberation Sans, Arial, sans-serif" font-weight="bold" font-size="8.6" fill="#000" stroke="#000" stroke-width="0.12" text-anchor="middle" textLength="43.6" lengthAdjust="spacingAndGlyphs">conditions</text>
<path d="M572.8,51.3 C568.5,39 558,29 544.9,25.7" fill="none" stroke="#111" stroke-width="1.1"/>
<polyline points="547.96,28.58 544.9,25.7 548.83,24.22" fill="none" stroke="#111" stroke-width="1.1"/>
<path d="M575.9,109.5 C574,121 567,131 555.3,137.2" fill="none" stroke="#111" stroke-width="1.1"/>
<polyline points="559.46,137.77 555.3,137.2 557.63,133.71" fill="none" stroke="#111" stroke-width="1.1"/>
<rect x="409.5" y="228.6" width="269.20" height="178.40" fill="none" stroke="#333" stroke-width="1"/>
<line x1="406.5" y1="398.75" x2="409.5" y2="398.75" stroke="#333" stroke-width="0.9"/>
<text x="404.0" y="402.15" font-family="DejaVu Sans, sans-serif" font-size="9.5" fill="#222" text-anchor="end">1.16</text>
<line x1="406.5" y1="362.76" x2="409.5" y2="362.76" stroke="#333" stroke-width="0.9"/>
<text x="404.0" y="366.16" font-family="DejaVu Sans, sans-serif" font-size="9.5" fill="#222" text-anchor="end">1.18</text>
<line x1="406.5" y1="326.77" x2="409.5" y2="326.77" stroke="#333" stroke-width="0.9"/>
<text x="404.0" y="330.17" font-family="DejaVu Sans, sans-serif" font-size="9.5" fill="#222" text-anchor="end">1.20</text>
<line x1="406.5" y1="290.78" x2="409.5" y2="290.78" stroke="#333" stroke-width="0.9"/>
<text x="404.0" y="294.18" font-family="DejaVu Sans, sans-serif" font-size="9.5" fill="#222" text-anchor="end">1.22</text>
<line x1="406.5" y1="254.79" x2="409.5" y2="254.79" stroke="#333" stroke-width="0.9"/>
<text x="404.0" y="258.19" font-family="DejaVu Sans, sans-serif" font-size="9.5" fill="#222" text-anchor="end">1.24</text>
<line x1="454.5" y1="407" x2="454.5" y2="410" stroke="#333" stroke-width="0.9"/>
<text x="454.5" y="420" font-family="DejaVu Sans, sans-serif" font-size="9.5" fill="#222" text-anchor="middle">XY</text>
<line x1="544.5" y1="407" x2="544.5" y2="410" stroke="#333" stroke-width="0.9"/>
<text x="544.5" y="420" font-family="DejaVu Sans, sans-serif" font-size="9.5" fill="#222" text-anchor="middle">XZ</text>
<line x1="634.2" y1="407" x2="634.2" y2="410" stroke="#333" stroke-width="0.9"/>
<text x="634.2" y="420" font-family="DejaVu Sans, sans-serif" font-size="9.5" fill="#222" text-anchor="middle">ZX</text>
<text x="543.6" y="433.3" font-family="DejaVu Sans, sans-serif" font-size="11.2" fill="#222" text-anchor="middle">Coupon Type</text>
<text transform="translate(376.3,318) rotate(-90)" font-family="DejaVu Sans, sans-serif" font-size="11.2" fill="#222" text-anchor="middle">Density (g/cm³)</text>
<text x="366.4" y="234" font-family="DejaVu Sans, sans-serif" font-weight="bold" font-size="10.5" fill="#222">f)</text>
<line x1="454.5" y1="380.93" x2="454.5" y2="385.07" stroke="#3d3d3d" stroke-width="1"/>
<line x1="454.5" y1="395.51" x2="454.5" y2="398.93" stroke="#3d3d3d" stroke-width="1"/>
<line x1="436.5" y1="380.93" x2="472.5" y2="380.93" stroke="#3d3d3d" stroke-width="1"/>
<line x1="436.5" y1="398.93" x2="472.5" y2="398.93" stroke="#3d3d3d" stroke-width="1"/>
<rect x="418.5" y="385.07" width="72" height="10.44" fill="#1f1ff0" stroke="#3d3d3d" stroke-width="1"/>
<line x1="418.5" y1="390.47" x2="490.5" y2="390.47" stroke="#3d3d3d" stroke-width="1"/>
<line x1="544.5" y1="237.33" x2="544.5" y2="248.13" stroke="#3d3d3d" stroke-width="1"/>
<line x1="544.5" y1="293.12" x2="544.5" y2="308.60" stroke="#3d3d3d" stroke-width="1"/>
<line x1="526.5" y1="237.33" x2="562.5" y2="237.33" stroke="#3d3d3d" stroke-width="1"/>
<line x1="526.5" y1="308.60" x2="562.5" y2="308.60" stroke="#3d3d3d" stroke-width="1"/>
<rect x="508.5" y="248.13" width="72" height="44.99" fill="#e62a2a" stroke="#3d3d3d" stroke-width="1"/>
<line x1="508.5" y1="270.27" x2="580.5" y2="270.27" stroke="#3d3d3d" stroke-width="1"/>
<line x1="634.2" y1="254.07" x2="634.2" y2="264.51" stroke="#3d3d3d" stroke-width="1"/>
<line x1="634.2" y1="275.30" x2="634.2" y2="287.72" stroke="#3d3d3d" stroke-width="1"/>
<line x1="616.2" y1="254.07" x2="652.2" y2="254.07" stroke="#3d3d3d" stroke-width="1"/>
<line x1="616.2" y1="287.72" x2="652.2" y2="287.72" stroke="#3d3d3d" stroke-width="1"/>
<rect x="598.2" y="264.51" width="72" height="10.80" fill="#2b7d1f" stroke="#3d3d3d" stroke-width="1"/>
<line x1="598.2" y1="271.71" x2="670.2" y2="271.71" stroke="#3d3d3d" stroke-width="1"/>
<rect x="567.6" y="327.6" width="111.3" height="79.4" fill="#fff" stroke="#37414a" stroke-width="1"/>
<rect x="586.6" y="352.3" width="56.3" height="8" fill="#1f1ff0"/>
<rect x="579" y="360.4" width="70" height="1.8" fill="#000"/>
<path d="M587,379.3 L595,379.3 L607,382.4 L625,382.4 L632,379.3 L643.5,379.3 L643.5,387.1 L587,387.1 Z" fill="#e62a2a"/>
<rect x="579.8" y="386.7" width="69.8" height="1.8" fill="#000"/>
<rect x="605.5" y="384.6" width="1.8" height="1.6" fill="#000"/>
<rect x="609.1" y="384.6" width="1.8" height="1.6" fill="#000"/>
<rect x="612.7" y="384.6" width="1.8" height="1.6" fill="#000"/>
<rect x="616.3" y="384.6" width="1.8" height="1.6" fill="#000"/>
<rect x="619.9" y="384.6" width="1.8" height="1.6" fill="#000"/>
<path d="M661.7,340.5 L669,340.5 L669,349 L667.4,360 L667.4,380 L669,389 L669,395.7 L661.7,395.7 L661.7,389 L663.3,380 L663.3,360 L661.7,349 Z" fill="#2b7d1f"/>
<rect x="656.6" y="396.3" width="17.6" height="1.8" fill="#000"/>
</svg>
</body></html>
